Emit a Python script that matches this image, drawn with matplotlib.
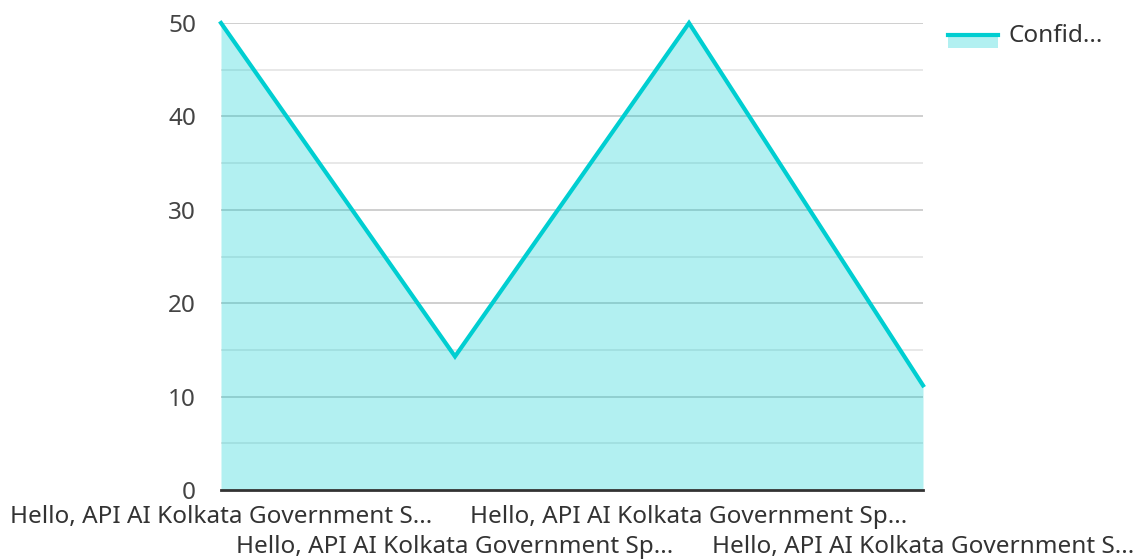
import matplotlib
matplotlib.use("Agg")
import matplotlib.pyplot as plt
from matplotlib.patches import Rectangle
from matplotlib.lines import Line2D
import numpy as np

categories = [
    "Hello, API AI Kolkata Government S...",
    "Hello, API AI Kolkata Government Sp...",
    "Hello, API AI Kolkata Government Sp...",
    "Hello, API AI Kolkata Government S...",
]
values = [50, 14.3, 50, 11.2]
series_name = "Confid..."
yticks = [0, 10, 20, 30, 40, 50]

plt.rcParams['font.family'] = ['Noto Sans', 'DejaVu Sans']

W, H = 1140, 560
fig = plt.figure(figsize=(W / 100, H / 100), dpi=100)
ax = fig.add_axes([221 / W, 1 - 490 / H, (923 - 221) / W, (490 - 23) / H])

line_color = "#00CED1"
x = np.arange(len(values))

# grid
for yv in np.arange(0, 51, 5):
    if yv == 0:
        continue
    c = "#cccccc" if yv % 10 == 0 else "#e6e6e6"
    ax.axhline(yv, color=c, lw=1.3, zorder=1)

ax.fill_between(x, values, 0, color=line_color, alpha=0.3, lw=0, zorder=2)
ax.plot(x, values, color=line_color, lw=3, zorder=3, solid_joinstyle='miter', clip_on=False)

ax.set_xlim(0, len(values) - 1)
ax.set_ylim(0, 50)
for s in ["top", "right", "left"]:
    ax.spines[s].set_visible(False)
ax.spines["bottom"].set_color("#333333")
ax.spines["bottom"].set_linewidth(2)
ax.spines["bottom"].set_zorder(4)

ax.set_yticks(yticks)
ax.set_yticklabels([str(v) for v in yticks], fontsize=17.5, color="#444444")
ax.tick_params(axis='y', length=0, pad=18)
ax.set_xticks(x)
ax.set_xticklabels([])
ax.tick_params(axis='x', length=0)

for i, lab in enumerate(categories):
    off = 0 if i % 2 == 0 else 1
    ax.annotate(lab, xy=(x[i], 0), xycoords='data',
                xytext=(0, -15 - off * 30), textcoords='offset pixels',
                ha='center', va='top', fontsize=17.5, color='#333333',
                annotation_clip=False)

# legend
fig.patches.append(Rectangle((948 / W, 1 - 48 / H), 50 / W, 13 / H,
                             transform=fig.transFigure, color=line_color,
                             alpha=0.3, lw=0))
fig.lines.append(Line2D([948 / W, 998 / W], [1 - 35 / H, 1 - 35 / H],
                        transform=fig.transFigure, color=line_color, lw=3))
fig.text(1008 / W, 1 - 36 / H, series_name, fontsize=17.5, color="#333333",
         va='center', ha='left')

fig.savefig("out.png", dpi=100)
